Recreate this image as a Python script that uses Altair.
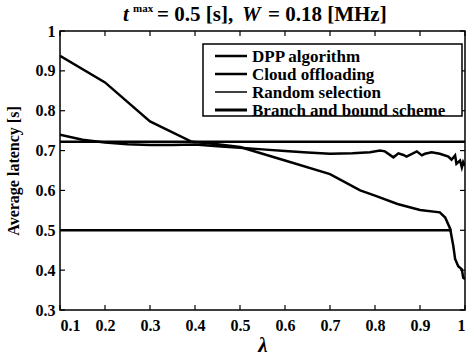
import altair as alt
import pandas as pd

# ---- data ----
series_names = ["DPP algorithm", "Cloud offloading", "Random selection", "Branch and bound scheme"]
series_widths = [2.5, 2.5, 1.5, 3]

dpp_x = [0.1, 0.2, 0.3, 0.393, 0.45, 0.5, 0.6, 0.7, 0.767, 0.8, 0.85, 0.9, 0.944, 0.956,
         0.967, 0.974, 0.978, 0.985, 0.993, 0.996, 1.0]
dpp_y = [0.938, 0.871, 0.773, 0.722, 0.716, 0.709, 0.675, 0.641, 0.600, 0.587, 0.566, 0.551,
         0.545, 0.532, 0.504, 0.461, 0.428, 0.410, 0.402, 0.381, 0.378]

cloud_x = [0.1, 1.0]
cloud_y = [0.722, 0.722]

rnd_x = [0.1, 0.15, 0.2, 0.25, 0.3, 0.35, 0.4, 0.45, 0.5, 0.55, 0.6, 0.65, 0.7, 0.75, 0.789,
         0.811, 0.822, 0.841, 0.852, 0.863, 0.870, 0.893, 0.904, 0.911, 0.926, 0.944, 0.963,
         0.970, 0.978, 0.981, 0.989, 0.993, 0.996, 1.0]
rnd_y = [0.740, 0.727, 0.720, 0.716, 0.714, 0.714, 0.715, 0.711, 0.707, 0.703, 0.699, 0.695,
         0.692, 0.693, 0.696, 0.700, 0.698, 0.683, 0.693, 0.689, 0.685, 0.698, 0.688, 0.692,
         0.696, 0.692, 0.685, 0.677, 0.688, 0.667, 0.675, 0.658, 0.671, 0.662]

bb_x = [0.1, 0.97]
bb_y = [0.5, 0.5]

x_ticks = [0.1, 0.2, 0.3, 0.4, 0.5, 0.6, 0.7, 0.8, 0.9, 1.0]
y_ticks = [0.3, 0.4, 0.5, 0.6, 0.7, 0.8, 0.9, 1.0]

# ---- build table ----
rows = []
for name, xs_, ys_ in [(series_names[0], dpp_x, dpp_y),
                       (series_names[1], cloud_x, cloud_y),
                       (series_names[2], rnd_x, rnd_y),
                       (series_names[3], bb_x, bb_y)]:
    for i, (a, b) in enumerate(zip(xs_, ys_)):
        rows.append({"series": name, "lam": a, "val": b, "idx": i})
df = pd.DataFrame(rows)

W, H = 405, 279
FONT = "Liberation Serif, Tinos, Times New Roman, DejaVu Serif, serif"

xs = alt.Scale(domain=[0.1, 1.0], nice=False, zero=False)
ys = alt.Scale(domain=[0.3, 1.0], nice=False, zero=False)

lab_expr = "datum.value >= 0.999 ? '1' : format(datum.value, '.1f')"

x_axis = alt.Axis(values=x_ticks, labelExpr=lab_expr, ticks=False, domain=False,
                  grid=False, labelPadding=7, labelOverlap=False,
                  labelFont=FONT, labelFontWeight="bold", labelFontSize=16,
                  labelColor="black", title="λ", titleFont=FONT, titleFontWeight="bold",
                  titleFontStyle="italic", titleFontSize=21, titlePadding=1,
                  titleColor="black")
y_axis = alt.Axis(values=y_ticks, labelExpr=lab_expr, ticks=False, domain=False,
                  grid=False, labelPadding=5, labelOverlap=False,
                  labelFont=FONT, labelFontWeight="bold", labelFontSize=16,
                  labelColor="black", title="Average latency [s]", titleFont=FONT,
                  titleFontWeight="bold", titleFontSize=16, titlePadding=14,
                  titleColor="black")

lines = alt.Chart(df).mark_line(color="black", clip=True).encode(
    x=alt.X("lam:Q", scale=xs, axis=x_axis),
    y=alt.Y("val:Q", scale=ys, axis=y_axis),
    detail="series:N",
    order="idx:Q",
    strokeWidth=alt.StrokeWidth(
        "series:N",
        scale=alt.Scale(domain=series_names, range=series_widths),
        legend=None,
    ),
)

tx = pd.DataFrame({"v": x_ticks})
ty = pd.DataFrame({"v": y_ticks})
tick_len = 5
xt_bot = alt.Chart(tx).mark_rule(color="black", strokeWidth=1.2).encode(
    x=alt.X("v:Q", scale=xs, axis=x_axis), y=alt.value(H), y2=alt.value(H - tick_len))
xt_top = alt.Chart(tx).mark_rule(color="black", strokeWidth=1.2).encode(
    x=alt.X("v:Q", scale=xs, axis=x_axis), y=alt.value(0), y2=alt.value(tick_len))
yt_l = alt.Chart(ty).mark_rule(color="black", strokeWidth=1.2).encode(
    y=alt.Y("v:Q", scale=ys, axis=y_axis), x=alt.value(0), x2=alt.value(tick_len))
yt_r = alt.Chart(ty).mark_rule(color="black", strokeWidth=1.2).encode(
    y=alt.Y("v:Q", scale=ys, axis=y_axis), x=alt.value(W), x2=alt.value(W - tick_len))

one = pd.DataFrame({"a": [0]})

def txt(s, x, y, size, style="normal", baseline="middle"):
    return alt.Chart(one).mark_text(
        text=s, font=FONT, fontWeight="bold", fontSize=size, fontStyle=style,
        align="left", baseline=baseline, color="black", clip=False
    ).encode(x=alt.value(x), y=alt.value(y))

# ---- legend (drawn box, samples and labels) ----
leg_left, leg_top, leg_right, leg_bottom = 143, 13, 402, 85
legend_box = alt.Chart(one).mark_rect(
    fill="white", stroke="black", strokeWidth=1.5
).encode(x=alt.value(leg_left), x2=alt.value(leg_right),
         y=alt.value(leg_top), y2=alt.value(leg_bottom))
legend_layers = [legend_box]
for k, (name, sw) in enumerate(zip(series_names, series_widths)):
    yc = 25 + 18 * k
    legend_layers.append(
        alt.Chart(one).mark_rule(color="black", strokeWidth=sw).encode(
            x=alt.value(155), x2=alt.value(187), y=alt.value(yc))
    )
    legend_layers.append(txt(name, 192, yc + 1, 17))

# ---- title pieces (rich text) ----
title_parts = [
    txt("t", 63, -10, 21, "italic", "alphabetic"),
    txt("max", 73, -19, 11, "normal", "alphabetic"),
    txt("= 0.5 [s],", 97, -10, 21, "normal", "alphabetic"),
    txt("W", 182, -10, 21, "italic", "alphabetic"),
    txt("= 0.18 [MHz]", 208, -10, 21, "normal", "alphabetic"),
]

chart = alt.layer(lines, xt_bot, xt_top, yt_l, yt_r, *legend_layers, *title_parts).properties(
    width=W, height=H,
    background="white",
    autosize=alt.AutoSizeParams(type="none"),
    padding={"left": 60, "top": 31, "right": 9, "bottom": 45},
).configure_view(stroke="black", strokeWidth=1.5).configure_axis(
    labelFont=FONT, labelFontWeight="bold", labelFontSize=16, labelColor="black",
    titleFont=FONT, titleFontWeight="bold", titleColor="black",
)

chart.save("out.html", embed_options={"renderer": "svg", "actions": False})
